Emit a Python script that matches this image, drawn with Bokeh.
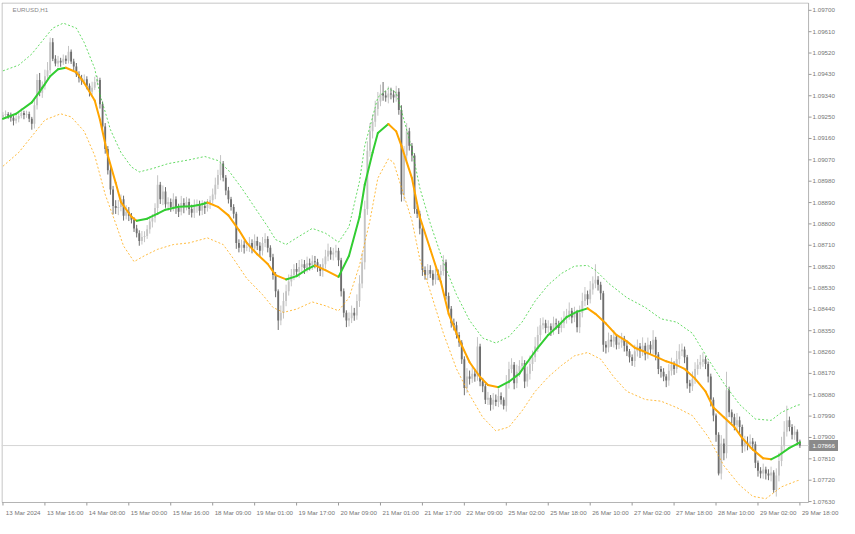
from bokeh.plotting import figure
from bokeh.models import FixedTicker, Label, ColumnDataSource, Range1d
from bokeh.core.properties import value
from bokeh.embed import file_html
from bokeh.resources import INLINE

chart_title = "EURUSD,H1"
current_price = 1.07866
first_open = 1.09251

# hourly closes, 13 Mar 2024 00:00 .. 29 Mar 2024 18:00 (305 bars)
closes = [
1.09259,1.09263,1.09255,1.09247,1.09235,1.09243,1.09255,1.09267,1.09259,1.09263,
1.09243,1.09222,1.09300,1.09406,1.09353,1.09382,1.09422,1.09447,1.09565,1.09496,
1.09476,1.09488,1.09480,1.09496,1.09488,1.09525,1.09484,1.09463,1.09431,1.09414,
1.09402,1.09410,1.09382,1.09357,1.09374,1.09398,1.09406,1.09304,1.09210,1.09116,
1.09026,1.08945,1.08875,1.08867,1.08871,1.08904,1.08834,1.08851,1.08834,1.08818,
1.08781,1.08761,1.08728,1.08745,1.08749,1.08777,1.08810,1.08826,1.08867,1.08965,
1.08904,1.08937,1.08883,1.08892,1.08871,1.08904,1.08867,1.08851,1.08888,1.08875,
1.08892,1.08863,1.08847,1.08875,1.08883,1.08855,1.08875,1.08867,1.08883,1.08900,
1.08924,1.08965,1.09006,1.09055,1.08994,1.08941,1.08904,1.08871,1.08843,1.08720,
1.08700,1.08712,1.08700,1.08704,1.08720,1.08696,1.08728,1.08708,1.08687,1.08720,
1.08736,1.08700,1.08659,1.08585,1.08516,1.08393,1.08426,1.08475,1.08516,1.08557,
1.08585,1.08610,1.08598,1.08618,1.08630,1.08614,1.08634,1.08626,1.08643,1.08638,
1.08618,1.08602,1.08630,1.08663,1.08687,1.08671,1.08679,1.08687,1.08647,1.08516,
1.08426,1.08393,1.08402,1.08426,1.08414,1.08475,1.08549,1.08638,1.08863,1.09108,
1.09190,1.09231,1.09284,1.09316,1.09349,1.09341,1.09333,1.09349,1.09345,1.09333,
1.09357,1.09280,1.08924,1.09088,1.09190,1.09129,1.09088,1.08863,1.08843,1.08781,
1.08606,1.08585,1.08606,1.08590,1.08565,1.08590,1.08585,1.08602,1.08638,1.08496,
1.08442,1.08381,1.08373,1.08332,1.08300,1.08230,1.08108,1.08157,1.08148,1.08169,
1.08157,1.08283,1.08136,1.08116,1.08059,1.08067,1.08038,1.08059,1.08050,1.08075,
1.08059,1.08034,1.08128,1.08189,1.08206,1.08128,1.08177,1.08201,1.08214,1.08136,
1.08169,1.08210,1.08238,1.08283,1.08332,1.08373,1.08381,1.08361,1.08369,1.08353,
1.08381,1.08377,1.08361,1.08381,1.08402,1.08414,1.08434,1.08406,1.08426,1.08365,
1.08426,1.08475,1.08504,1.08483,1.08524,1.08549,1.08565,1.08544,1.08508,1.08291,
1.08279,1.08312,1.08304,1.08324,1.08291,1.08300,1.08316,1.08287,1.08263,1.08238,
1.08222,1.08263,1.08283,1.08263,1.08287,1.08250,1.08291,1.08271,1.08312,1.08250,
1.08189,1.08177,1.08157,1.08140,1.08181,1.08206,1.08189,1.08230,1.08263,1.08271,
1.08238,1.08128,1.08116,1.08148,1.08189,1.08206,1.08218,1.08230,1.08210,1.08157,
1.08059,1.07993,1.07912,1.07748,1.07875,1.07834,1.08099,1.08006,1.07985,1.07952,
1.07973,1.07944,1.07863,1.07879,1.07871,1.07883,1.07871,1.07793,1.07760,1.07748,
1.07765,1.07748,1.07740,1.07752,1.07679,1.07740,1.07801,1.07863,1.07924,1.07973,
1.07944,1.07912,1.07924,1.07883,1.07866]

# wick lengths above / below the body, in points (0.00001)
upper_wick_pts = [
12,15,8,14,10,18,12,20,10,14, 10,8,22,25,30,18,28,35,20,18,
15,20,12,18,14,25,10,12,15,12, 14,20,12,10,25,22,18,10,12,15,
12,18,15,25,30,20,15,28,20,12, 10,15,12,25,20,18,22,15,20,40,
12,25,18,20,15,25,12,18,30,20, 22,15,18,28,20,15,25,20,22,18,
25,30,22,35,10,12,15,10,12,8, 15,22,18,20,25,15,28,18,15,25,
25,12,10,15,12,8,30,35,28,30, 25,20,25,30,22,18,28,20,25,22,
15,12,25,28,30,15,20,25,12,10, 12,10,25,30,20,28,35,40,35,40,
35,30,35,40,38,49,20,30,25,18, 25,15,20,40,35,15,12,10,15,12,
10,15,25,20,15,22,18,25,30,12, 15,12,20,15,12,10,12,35,25,30,
20,40,12,15,10,25,12,28,22,30, 15,10,35,30,28,12,30,25,28,12,
30,35,28,40,35,30,25,15,25,12, 28,20,15,25,30,28,35,12,25,12,
30,35,30,15,35,30,65,15,12,10, 15,30,20,28,12,22,25,12,15,10,
12,28,30,15,35,12,30,15,40,12, 10,12,15,10,28,30,15,35,30,25,
12,10,15,30,28,25,30,28,12,10, 12,10,8,10,35,20,78,15,12,15,
30,15,10,28,25,30,15,12,10,15, 25,12,18,25,10,30,35,40,45,61,
15,12,25,10,8]
lower_wick_pts = [
10,14,12,16,20,12,15,10,18,12, 14,25,20,18,15,22,16,20,14,10,
12,16,18,10,14,12,10,15,12,18, 16,12,15,20,12,10,14,18,25,20,
18,22,35,25,30,18,20,15,22,16, 15,18,20,15,22,12,18,25,20,30,
20,25,15,28,20,18,25,22,15,30, 18,25,20,22,28,20,18,25,15,20,
15,20,18,22,15,20,18,15,20,25, 20,18,25,15,22,20,15,18,25,20,
18,20,15,20,25,40,20,25,22,18, 20,22,18,25,20,25,18,22,20,25,
20,22,25,18,20,22,25,20,25,22, 20,28,25,20,22,18,25,20,30,25,
25,30,22,28,20,22,18,25,20,22, 18,20,30,28,22,20,25,20,18,25,
25,20,22,18,25,20,22,18,20,15, 20,18,22,15,18,20,30,20,25,18,
22,18,20,25,18,22,25,20,18,22, 20,16,25,22,18,25,20,22,18,28,
22,25,30,20,22,25,18,22,20,25, 20,22,25,18,20,22,18,25,20,22,
25,20,22,25,18,22,20,25,28,30, 25,20,22,25,20,18,22,25,20,22,
20,25,22,28,20,25,18,22,20,25, 22,25,20,28,22,20,25,18,22,20,
25,22,28,20,22,25,18,20,22,25, 28,25,30,8,25,30,22,20,25,22,
20,25,28,22,25,20,25,22,25,20, 22,25,20,25,12,28,25,22,25,20,
18,20,22,15,10]

# centred moving average (bar index, value)
tma_bars = [0,5,11,15,18,21,24,28,31,35,37,40,43,45,49,51,55,59,62,67,
            72,76,78,82,86,90,93,97,101,104,108,112,116,119,123,128,132,136,138,141,
            143,147,150,152,156,159,163,167,170,174,178,182,185,189,193,197,200,204,208,212,
            215,219,223,226,230,234,238,241,245,249,253,256,260,264,268,271,275,279,282,286,
            290,293,296,300,303,304]
tma_vals = [1.09243,1.09264,1.09312,1.09373,1.09422,1.09452,1.09458,1.09439,1.09394,1.09320,
            1.09239,1.09088,1.08973,1.08892,1.08830,1.08813,1.08822,1.08843,1.08860,1.08872,
            1.08874,1.08883,1.08890,1.08872,1.08836,1.08774,1.08720,1.08672,1.08631,1.08584,
            1.08566,1.08580,1.08609,1.08625,1.08605,1.08577,1.08666,1.08829,1.08965,1.09101,
            1.09183,1.09221,1.09190,1.09129,1.08993,1.08829,1.08693,1.08557,1.08421,1.08312,
            1.08217,1.08155,1.08121,1.08112,1.08135,1.08169,1.08217,1.08278,1.08332,1.08373,
            1.08407,1.08430,1.08444,1.08421,1.08380,1.08332,1.08305,1.08278,1.08260,1.08241,
            1.08221,1.08210,1.08189,1.08148,1.08094,1.08026,1.07985,1.07944,1.07897,1.07849,
            1.07812,1.07808,1.07825,1.07856,1.07873,1.07879]

upper_bars = [0,6,11,15,19,23,28,31,35,37,41,45,49,52,57,63,71,77,82,86,
              91,96,101,104,108,112,118,123,128,132,136,138,141,143,147,150,152,156,159,163,
              168,173,178,183,188,193,198,203,208,213,218,223,226,231,238,245,251,257,263,269,
              275,281,287,293,297,303,304]
upper_vals = [1.09445,1.09469,1.09516,1.09571,1.09625,1.09646,1.09625,1.09564,1.09455,1.09346,
              1.09197,1.09101,1.09040,1.09019,1.09033,1.09054,1.09070,1.09084,1.09067,1.09026,
              1.08952,1.08870,1.08788,1.08734,1.08713,1.08741,1.08781,1.08761,1.08723,1.08788,
              1.08979,1.09129,1.09251,1.09333,1.09371,1.09353,1.09278,1.09115,1.08952,1.08802,
              1.08638,1.08502,1.08393,1.08319,1.08298,1.08325,1.08386,1.08475,1.08543,1.08591,
              1.08622,1.08625,1.08605,1.08550,1.08489,1.08448,1.08400,1.08386,1.08339,1.08230,
              1.08128,1.08039,1.07978,1.07972,1.08006,1.08036,1.08038]

lower_bars = [0,6,11,16,22,26,31,35,39,43,46,50,54,59,65,71,78,84,88,93,
              99,103,107,112,118,123,128,132,136,140,143,147,149,152,156,159,163,168,173,178,
              183,188,193,198,203,208,213,218,223,228,233,238,245,251,257,263,269,275,281,286,
              291,297,303,304]
lower_vals = [1.09043,1.09101,1.09169,1.09238,1.09264,1.09251,1.09190,1.09088,1.08924,1.08802,
              1.08707,1.08641,1.08666,1.08693,1.08713,1.08720,1.08741,1.08713,1.08652,1.08570,
              1.08502,1.08448,1.08427,1.08441,1.08471,1.08455,1.08434,1.08489,1.08625,1.08815,
              1.08993,1.09074,1.09059,1.08953,1.08815,1.08652,1.08516,1.08339,1.08189,1.08080,
              1.07985,1.07928,1.07944,1.08012,1.08094,1.08155,1.08203,1.08244,1.08258,1.08230,
              1.08155,1.08094,1.08060,1.08053,1.08026,1.07992,1.07903,1.07781,1.07699,1.07652,
              1.07642,1.07692,1.07718,1.07720]

x_tick_bars = [0,16,32,48,64,80,96,112,128,144,160,176,192,208,224,240,256,272,288,304]
x_tick_labels = ["13 Mar 2024","13 Mar 16:00","14 Mar 08:00","15 Mar 00:00","15 Mar 16:00",
                 "18 Mar 09:00","19 Mar 01:00","19 Mar 17:00","20 Mar 09:00","21 Mar 01:00",
                 "21 Mar 17:00","22 Mar 09:00","25 Mar 02:00","25 Mar 18:00","26 Mar 10:00",
                 "27 Mar 02:00","27 Mar 18:00","28 Mar 10:00","29 Mar 02:00","29 Mar 18:00"]
y_ticks = [1.07630,1.07720,1.07810,1.07900,1.07990,1.08080,1.08170,1.08260,1.08350,1.08440,
           1.08530,1.08620,1.08710,1.08800,1.08890,1.08980,1.09070,1.09160,1.09250,1.09340,
           1.09430,1.09520,1.09610,1.09700]

# ---- layout constants ----
W, H = 839, 518
B_LEFT, B_TOP = 1, 2
CHART_H = 500                             # height of the bordered chart area
EXT = 6                                   # extra frame below the border (room for price labels)
B_BOTTOM = H - B_TOP - CHART_H - EXT
FRAME_W = W - B_LEFT
FRAME_H = CHART_H + EXT
X0, XAXIS, X1 = -0.56, 307.3, 319.1      # frame left, price-scale line, frame right (bar units)
Y0, Y1 = 1.07626, 1.09733                 # chart border bottom / top (price)
PXB = (X1 - X0) / FRAME_W                 # one pixel in bar units
PXP = (Y1 - Y0) / CHART_H                 # one pixel in price units
FONT = "Liberation Sans"
FS = "6.2px"
TXT = "#767676"
BORDER = "#b4b4b4"
TICK = "#9a9a9a"
BULL = "#c4c4c4"
BEAR = "#6e6e6e"

# ---- derived OHLC ----
opens = [first_open] + closes[:-1]
bull = dict(x=[], top=[], bottom=[], high=[], low=[])
bear = dict(x=[], top=[], bottom=[], high=[], low=[])
for i, (o, c, uw, lw) in enumerate(zip(opens, closes, upper_wick_pts, lower_wick_pts)):
    d = bull if c >= o else bear
    d["x"].append(i)
    d["top"].append(max(o, c))
    d["bottom"].append(min(o, c))
    d["high"].append(max(o, c) + uw * 1e-5)
    d["low"].append(min(o, c) - lw * 1e-5)

p = figure(width=W, height=H, x_range=Range1d(X0, X1), y_range=Range1d(Y0 - EXT * PXP, Y1),
           y_axis_location=None, toolbar_location=None, output_backend="svg",
           min_border_left=B_LEFT, min_border_right=0, min_border_top=B_TOP, min_border_bottom=B_BOTTOM)
p.grid.visible = False
p.outline_line_color = None
p.background_fill_color = "white"
p.border_fill_color = "white"

# time axis: labels start just right of their tick (MetaTrader style)
label_shift = 20.2 * PXB
xa = p.xaxis[0]
xa.ticker = FixedTicker(ticks=[b + label_shift for b in x_tick_bars])
xa.major_label_overrides = {b + label_shift: t for b, t in zip(x_tick_bars, x_tick_labels)}
xa.axis_line_color = None
xa.major_tick_line_color = None
xa.minor_tick_line_color = None
xa.major_tick_in = 0
xa.major_tick_out = 0
xa.major_label_standoff = 0
xa.major_label_text_font = FONT
xa.major_label_text_font_size = FS
xa.major_label_text_color = TXT

# chart border and price-scale line
p.quad(left=X0 + 0.5 * PXB, right=XAXIS, bottom=Y0, top=Y1 - 0.5 * PXP,
       fill_color=None, line_color=BORDER, line_width=1)
# time ticks
n_x = len(x_tick_bars)
p.segment(x0=x_tick_bars, y0=[Y0] * n_x, x1=x_tick_bars, y1=[Y0 - 3 * PXP] * n_x,
          line_color=TICK, line_width=1)

# price scale
n_y = len(y_ticks)
p.segment(x0=[XAXIS] * n_y, y0=y_ticks, x1=[XAXIS + 3 * PXB] * n_y, y1=y_ticks,
          line_color=TICK, line_width=1)
p.text(x=[XAXIS + 4 * PXB] * n_y, y=y_ticks, text=["%.5f" % v for v in y_ticks],
       text_font=value(FONT), text_font_size=FS, text_color=TXT,
       text_align="left", text_baseline="middle")

# current price line and marker
p.segment(x0=[X0], y0=[current_price], x1=[XAXIS], y1=[current_price], line_color="#d6d6d6", line_width=1)
p.quad(left=[XAXIS + 0.5 * PXB], right=[X1 - 1.5 * PXB],
       bottom=[current_price - 5.5 * PXP], top=[current_price + 5.5 * PXP],
       fill_color="#8a8a8a", line_color=None)
p.text(x=[XAXIS + 4 * PXB], y=[current_price], text=["%.5f" % current_price],
       text_font=value(FONT), text_font_size=FS, text_color="white",
       text_align="left", text_baseline="middle")

# candles
sb = ColumnDataSource(bull)
sr = ColumnDataSource(bear)
p.segment(x0="x", y0="high", x1="x", y1="low", source=sb, line_color=BULL, line_width=1)
p.vbar(x="x", width=0.7, top="top", bottom="bottom", source=sb, fill_color=BULL, line_color=None)
p.segment(x0="x", y0="high", x1="x", y1="low", source=sr, line_color=BEAR, line_width=1)
p.vbar(x="x", width=0.7, top="top", bottom="bottom", source=sr, fill_color=BEAR, line_color=None)

# envelope bands
p.line(upper_bars, upper_vals, line_color="limegreen", line_alpha=0.75, line_width=1, line_dash="2 2")
p.line(lower_bars, lower_vals, line_color="orange", line_alpha=0.75, line_width=1, line_dash="2 2")

# moving average, green when rising, orange when falling
seg_colors = ["#32cd32" if b >= a else "#ffa500" for a, b in zip(tma_vals[:-1], tma_vals[1:])]
p.segment(x0=tma_bars[:-1], y0=tma_vals[:-1], x1=tma_bars[1:], y1=tma_vals[1:],
          line_color=seg_colors, line_width=2, line_cap="round")

p.add_layout(Label(x=11, y=FRAME_H - 3, x_units="screen", y_units="screen", text=chart_title,
                   text_font=FONT, text_font_size=FS, text_color="#8a8a8a", text_baseline="top"))

open("out.html", "w").write(file_html(p, INLINE))
